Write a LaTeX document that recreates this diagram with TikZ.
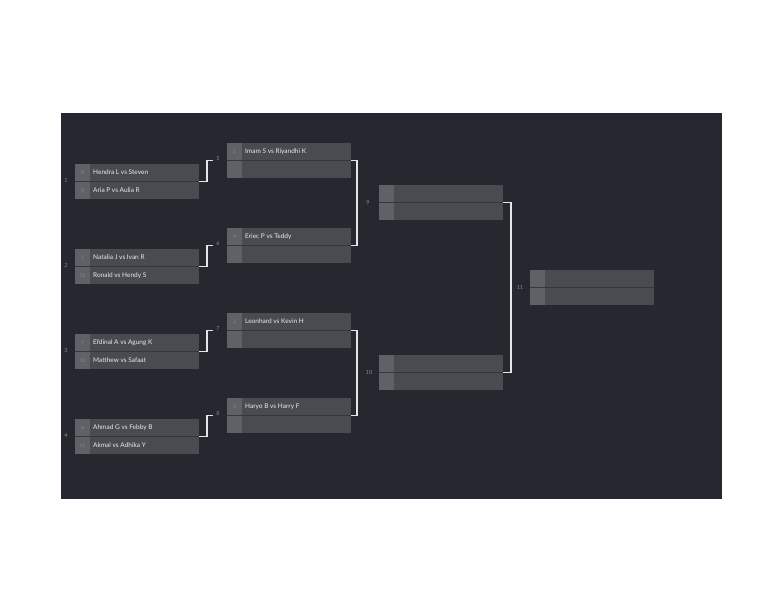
\documentclass[tikz,border=0pt]{standalone}
\usepackage{fontspec}
\setmainfont{Lato}
\definecolor{bg}{HTML}{262830}
\definecolor{box}{HTML}{4A4B51}
\definecolor{seed}{HTML}{606167}
\definecolor{sepc}{HTML}{36373D}
\definecolor{num}{HTML}{8A8B90}
\tikzset{
  x=1pt,y=-1pt,
  rowbox/.style={fill=box,minimum width=124pt,minimum height=17pt,inner sep=0,outer sep=0},
  seedcell/.style={fill=seed,minimum width=15pt,minimum height=17pt,inner sep=0,outer sep=0,font=\fontsize{5}{6}\selectfont,text=num},
  mtext/.style={font=\fontsize{6.5}{8}\selectfont,text=white!92!black,anchor=west,inner sep=0},
  lbl/.style={font=\fontsize{5.5}{7}\selectfont,text=num,inner sep=0},
  conn/.style={draw=white!90!black,line width=1.1pt}
}
% \bmatch{name}{x left}{y top}{seed1}{text1}{seed2}{text2}
\newcommand\bmatch[7]{%
  \node[rowbox,anchor=north west] (#1a) at (#2,#3) {};
  \node[rowbox,anchor=north west] (#1b) at (#2,#3+18) {};
  \node[seedcell,anchor=north west] (#1as) at (#2,#3) {#4};
  \node[seedcell,anchor=north west] (#1bs) at (#2,#3+18) {#6};
  \node[mtext] (#1at) at (#2+18,#3+8.5) {#5};
  \node[mtext] (#1bt) at (#2+18,#3+26.5) {#7};
  \draw[sepc,line width=0.8pt] (#2,#3+17.5) -- (#2+124,#3+17.5);
  \coordinate (#1in) at (#2,#3+17.5);
  \coordinate (#1out) at (#2+124,#3+17.5);
}
\begin{document}
\begin{tikzpicture}
\fill[white] (0,0) rectangle (768,594);
\useasboundingbox (0,0) rectangle (768,594);
\fill[bg] (61,113) rectangle (722,499);
\bmatch{m1}{75}{164}{8}{Hendra L vs Steven}{9}{Aria P vs Aulia R}
\bmatch{m2}{75}{249}{5}{Natalia J vs Ivan R}{12}{Ronald vs Hendy S}
\bmatch{m3}{75}{334}{7}{Efdinal A vs Agung K}{10}{Matthew vs Safaat}
\bmatch{m4}{75}{419}{6}{Ahmad G vs Febby B}{11}{Akmal vs Adhika Y}
\bmatch{m5}{227}{143}{1}{Imam S vs Riyandhi K}{}{}
\bmatch{m6}{227}{228}{4}{Eriec P vs Teddy}{}{}
\bmatch{m7}{227}{313}{2}{Leonhard vs Kevin H}{}{}
\bmatch{m8}{227}{398}{3}{Haryo B vs Harry F}{}{}
\bmatch{m9}{379}{185}{}{}{}{}
\bmatch{m10}{379}{355}{}{}{}{}
\bmatch{m11}{530}{270}{}{}{}{}
\node[lbl] (r1) at (66,181) {1};
\node[lbl] (r2) at (66,266) {2};
\node[lbl] (r3) at (66,351) {3};
\node[lbl] (r4) at (66,436) {4};
% round 1 -> 2
\draw[conn] (m1out) -- ++(8,0) |- ([xshift=-14pt]m5in) coordinate (c5);
\node[lbl] (l5) at (218,159) {5};
\draw[conn] (m2out) -- ++(8,0) |- ([xshift=-14pt]m6in) coordinate (c6);
\node[lbl] (l6) at (218,244) {6};
\draw[conn] (m3out) -- ++(8,0) |- ([xshift=-14pt]m7in) coordinate (c7);
\node[lbl] (l7) at (218,329) {7};
\draw[conn] (m4out) -- ++(8,0) |- ([xshift=-14pt]m8in) coordinate (c8);
\node[lbl] (l8) at (218,414) {8};
% round 2 -> 3
\draw[conn] (m5out) -- ++(6,0) |- (m6out);
\node[lbl] (l9) at (368,203) {9};
\draw[conn] (m7out) -- ++(6,0) |- (m8out);
\node[lbl] (l10) at (369,373) {10};
% round 3 -> final
\draw[conn] (m9out) -- ++(8,0) |- (m10out);
\node[lbl] (l11) at (520,288) {11};
\end{tikzpicture}
\end{document}
